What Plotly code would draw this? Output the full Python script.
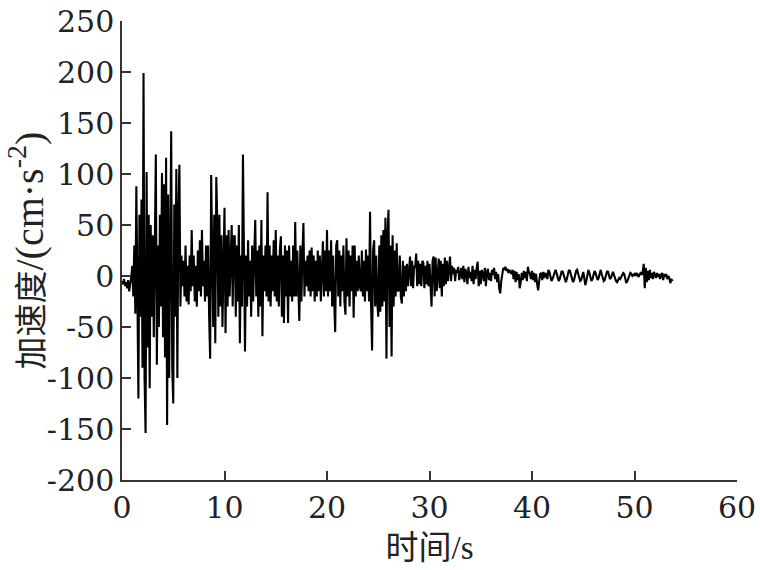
import numpy as np
import plotly.graph_objects as go

dt = 0.1
acc_rows = [
    [-5, -8, -3, -10, -6, -12, -4, -15, -8, -2],            # 0 s
    [10, -20, 30, -37, 88, -60, -120, 60, -40, 75],         # 1 s
    [-90, 199, -100, -154, 102, -70, 60, -110, 50, -40],    # 2 s
    [40, -60, 80, 119, -87, 30, -50, 60, -30, 101],         # 3 s
    [-60, 90, -80, 116, -146, 80, -100, 60, 142, -90],      # 4 s
    [-125, 70, -40, 105, -100, 60, 109, -30, 20, -10],      # 5 s
    [15, -20, 30, -25, 10, -28, 20, -15, 45, -10],          # 6 s
    [20, -25, 10, -30, 25, -15, 35, -20, 45, -10],          # 7 s
    [15, -25, 30, -20, 30, -40, -81, 99, 40, -50],          # 8 s
    [60, -66, 97, 50, -40, 60, -30, 40, -50, 30],           # 9 s
    [67, -56, 40, -30, 45, -20, 25, 50, -30, 39],           # 10 s
    [39, -40, 30, -25, 50, -66, 20, -30, 119, 10],          # 11 s
    [-74, 20, -30, 35, -20, 15, -40, 30, -25, 20],          # 12 s
    [55, -20, 25, -40, 30, -30, 55, -59, 20, -15],          # 13 s
    [30, -20, 82, -25, 30, -30, 20, -15, 35, -20],          # 14 s
    [45, -25, 20, -30, 25, 39, -40, 20, -46, 30],           # 15 s
    [-20, 25, -46, 30, -20, 15, -25, 30, -20, 53],          # 16 s
    [-20, 25, -15, -44, 30, -25, 20, 52, -20, 15],          # 17 s
    [-10, 20, -15, 25, -20, 28, -15, 20, -25, 15],          # 18 s
    [-20, 25, -15, 20, -25, 15, 34, -20, 25, -15],          # 19 s
    [45, -20, 25, -15, 35, -30, 20, -25, -55, 30],          # 20 s
    [35, -20, 25, -30, 20, -15, 30, -25, -38, 37],          # 21 s
    [-20, 25, -30, 20, -15, 30, -41, 30, -20, 15],          # 22 s
    [-15, 20, -10, -15, 25, -20, 15, -25, 26, -15],         # 23 s
    [20, -25, 63, -30, -73, 25, 35, -30, 20, -25],          # 24 s
    [-40, 30, -35, 40, -30, 45, -25, 57, -81, 40],          # 25 s
    [65, -50, 30, -79, 40, -30, 25, -20, 32, -15],          # 26 s
    [-14, 20, -20, -27, 15, -20, 10, -15, 12, -10],         # 27 s
    [5, 19, -10, 15, -12, 10, 8, 22, -10, 15],              # 28 s
    [-8, 12, -10, 15, 13, -12, 10, -8, 15, -10],            # 29 s
    [12, -15, -30, 15, 19, -20, 18, -15, 10, 17],           # 30 s
    [-12, 15, -20, 12, -10, 18, -8, 15, -5, 12],            # 31 s
    [19, -5, 10, 2, 8, -5, 6, 3, 9, -4],                    # 32 s
    [5, 8, -3, 10, -6, 7, 2, -8, 9, -2],                    # 33 s
    [4, -5, 10, -8, 6, -3, 8, 14, -10, 5],                  # 34 s
    [-8, 6, 2, -5, 8, -10, 4, 7, -4, 3],                    # 35 s
    [-5, 6, 1, 8, -3, 4, -6, 2, -12, -17],                  # 36 s
    [-5, 4, 8, 6, 9, 5, 7, 3, 6, 4],                        # 37 s
    [2, 6, -3, 5, -6, 4, -4, 2, -12, -6],                   # 38 s
    [3, -4, 5, -2, 4, -5, 9, 4, 2, -3],                     # 39 s
    [5, -4, 3, -6, 2, -8, -14, -5, 2, 3],                   # 40 s
    [-4, 4, -2, 3, 1, -3, 6, 4, -2, -5],                    # 41 s
    [-3, 0, 4, 6, 3, -2, -5, -3, 2, 5],                     # 42 s
    [4, 0, -4, -6, -3, 2, 6, 5, 1, -3],                     # 43 s
    [-6, -4, 1, 5, 6, 3, -2, -5, -4, 1],                    # 44 s
    [4, -2, -9, -5, 2, 6, 3, -2, -5, -3],                   # 45 s
    [2, 5, 3, -1, -4, -2, 3, 6, 2, -2],                     # 46 s
    [-5, -4, 0, 4, 5, 1, -3, -2, 2, 4],                     # 47 s
    [1, -3, -5, -6, -4, -2, -3, -1, 1, 3],                  # 48 s
    [2, -3, -7, -5, -2, 1, 3, 2, 0, 1],                     # 49 s
    [2, 0, 3, 1, -1, 2, 3, 1, 4, 12],                       # 50 s
    [-12, 8, -6, 5, -4, 6, -2, 3, -3, 4],                   # 51 s
    [1, -2, 3, -1, 2, -3, 1, 3, -4, 2],                     # 52 s
    [-1, 2, -3, 0, -2, -7, -3, -5],                         # 53 s
]
acc = [v for row in acc_rows for v in row]
time = np.arange(len(acc)) * dt

x_ticks = [0, 10, 20, 30, 40, 50, 60]
x_ticklabels = ["0", "10", "20", "30", "40", "50", "60"]
y_ticks = [-200, -150, -100, -50, 0, 50, 100, 150, 200, 250]
y_ticklabels = ["-200", "-150", "-100", "-50", "0", "50", "100", "150", "200", "250"]

x_title = "时间/s"
y_title = '加速度<span style="font-size:40px">/(cm·s<sup>-2</sup>)</span>'

fig = go.Figure()
fig.add_trace(go.Scatter(x=time, y=acc, mode="lines",
                         line=dict(color="#000000", width=2.1),
                         showlegend=False))

tickfont = dict(family="DejaVu Serif", size=30, color="#222222")
titlefont = dict(family="Liberation Serif, Noto Sans CJK SC", size=33, color="#222222")

W, H = 760, 570
L, R, T, B = 122, 23, 21, 90

fig.update_layout(
    width=W, height=H,
    margin=dict(l=L, r=R, t=T, b=B),
    paper_bgcolor="white", plot_bgcolor="white",
    xaxis=dict(range=[0, 60], tickvals=x_ticks, ticktext=x_ticklabels,
               ticks="inside", ticklen=9, tickwidth=1.5, tickcolor="#333333",
               showline=True, linecolor="#333333", linewidth=1.5,
               showgrid=False, zeroline=False, tickfont=tickfont,
               automargin=False,
               title=dict(text=x_title, font=titlefont, standoff=12)),
    yaxis=dict(range=[-200, 250], tickvals=y_ticks, ticktext=y_ticklabels,
               ticks="inside", ticklen=9, tickwidth=1.5, tickcolor="#333333",
               showline=True, linecolor="#333333", linewidth=1.5,
               showgrid=False, zeroline=False, tickfont=tickfont,
               automargin=False),
)

# y-axis title placed as a rotated annotation in the left margin
fig.add_annotation(text=y_title, font=titlefont, textangle=-90,
                   xref="paper", yref="paper",
                   x=(27 - L) / (W - L - R), y=0.5,
                   xanchor="center", yanchor="middle", showarrow=False)

fig.write_html("out.html", config={"displayModeBar": False},
               post_script="document.body.style.margin='0';")
